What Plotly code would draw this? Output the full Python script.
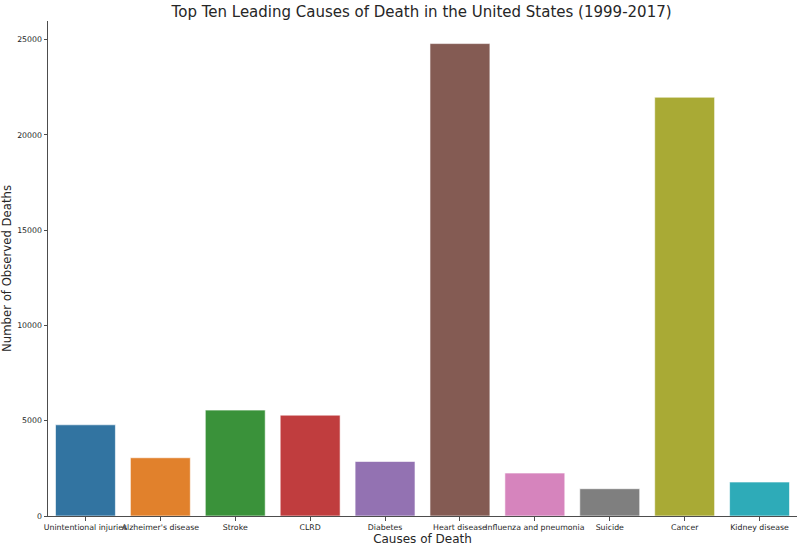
import plotly.graph_objects as go

causes = ["Unintentional injuries", "Alzheimer's disease", "Stroke", "CLRD", "Diabetes",
          "Heart disease", "Influenza and pneumonia", "Suicide", "Cancer", "Kidney disease"]
deaths = [4785, 3056, 5556, 5293, 2862, 24790, 2254, 1431, 21976, 1782]
colors = ["#3274a1", "#e1812c", "#3a923a", "#c03d3e", "#9372b2",
          "#845b53", "#d684bd", "#7f7f7f", "#a9aa35", "#2eabb8"]
y_ticks = [0, 5000, 10000, 15000, 20000, 25000]

fig = go.Figure(go.Bar(
    x=causes, y=deaths, marker=dict(color=colors, line=dict(color="white", width=0.6)),
    width=0.8,
))

font = "DejaVu Sans, sans-serif"
fig.update_layout(
    width=800, height=548,
    margin=dict(l=48, r=3, t=21, b=32, autoexpand=False),
    plot_bgcolor="white", paper_bgcolor="white",
    font=dict(family=font, color="#262626", size=8),
    showlegend=False,
    title=dict(text="Top Ten Leading Causes of Death in the United States (1999-2017)",
               x=0.527, xanchor="center", y=0.978, yanchor="middle",
               font=dict(size=15, family=font, color="#262626")),
    bargap=0.2,
)
fig.update_xaxes(
    range=[-0.5, 9.5], showline=True, linecolor="#4d4d4d", linewidth=1,
    ticks="outside", ticklen=3.5, tickcolor="#4d4d4d", tickwidth=0.8,
    title=dict(text="Causes of Death", font=dict(size=12, family=font, color="#262626"), standoff=2),
    tickfont=dict(size=7.8), tickangle=0, showgrid=False, automargin=False,
)
fig.update_yaxes(
    range=[0, 25975], showline=True, linecolor="#4d4d4d", linewidth=1,
    ticks="outside", ticklen=3.5, tickcolor="#4d4d4d", tickwidth=0.8,
    tickvals=y_ticks, ticktext=[str(v) for v in y_ticks],
    title=dict(text="Number of Observed Deaths", font=dict(size=11.7, family=font, color="#262626"), standoff=9),
    tickfont=dict(size=7.8), showgrid=False, zeroline=False, automargin=False,
)

fig.write_html("out.html", config={"displayModeBar": False},
               post_script="document.body.style.margin='0';")
